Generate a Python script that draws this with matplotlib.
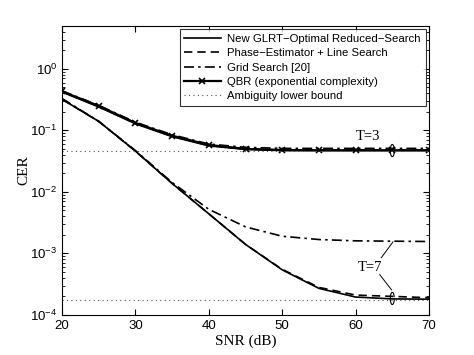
import numpy as np
import matplotlib
matplotlib.use("Agg")
import matplotlib.pyplot as plt
from matplotlib.patches import Arc

snr = [20, 25, 30, 35, 40, 45, 50, 55, 60, 65, 70]

# T = 3
glrt_t3 = [0.42, 0.24, 0.128, 0.079, 0.056, 0.049, 0.047, 0.047, 0.047, 0.047, 0.047]
phase_t3 = [0.43, 0.245, 0.130, 0.081, 0.057, 0.050, 0.048, 0.048, 0.048, 0.048, 0.048]
grid_t3 = [0.44, 0.255, 0.136, 0.085, 0.060, 0.053, 0.051, 0.051, 0.051, 0.051, 0.051]
qbr_t3 = [0.43, 0.25, 0.132, 0.082, 0.058, 0.050, 0.048, 0.0475, 0.0475, 0.0475, 0.0475]
bound_t3 = 0.0455

# T = 7
glrt_t7 = [0.32, 0.14, 0.046, 0.0137, 0.0044, 0.0014, 0.00054, 0.00027, 0.000195, 0.000182, 0.00018]
phase_t7 = [0.32, 0.14, 0.046, 0.0137, 0.0044, 0.0014, 0.00055, 0.00028, 0.00021, 0.0002, 0.00019]
grid_t7 = [0.33, 0.14, 0.047, 0.0142, 0.0052, 0.0027, 0.0019, 0.00168, 0.0016, 0.00158, 0.00156]
bound_t7 = 0.000175

legend_labels = ["New GLRT\u2212Optimal Reduced\u2212Search",
                 "Phase\u2212Estimator + Line Search",
                 "Grid Search [20]",
                 "QBR (exponential complexity)",
                 "Ambiguity lower bound"]

fig = plt.figure(figsize=(4.74, 3.55), dpi=100)
ax = fig.add_axes([0.131, 0.113, 0.774, 0.814])

lw = 1.2
l1, = ax.semilogy(snr, glrt_t3, color='black', lw=lw, ls='-')
ax.semilogy(snr, glrt_t7, color='black', lw=lw, ls='-')
l2, = ax.semilogy(snr, phase_t3, color='black', lw=lw, ls=(0, (5, 3)))
ax.semilogy(snr, phase_t7, color='black', lw=lw, ls=(0, (5, 3)))
l3, = ax.semilogy(snr, grid_t3, color='black', lw=lw, ls=(0, (6, 2.5, 1.5, 2.5)))
ax.semilogy(snr, grid_t7, color='black', lw=lw, ls=(0, (6, 2.5, 1.5, 2.5)))
l4, = ax.semilogy(snr, qbr_t3, color='black', lw=1.6, ls='-', marker='x', ms=4, mew=1.2)
l5, = ax.semilogy([snr[0], snr[-1]], [bound_t3, bound_t3], color='#555555', lw=0.8, ls=(0, (1, 3)))
ax.semilogy([snr[0], snr[-1]], [bound_t7, bound_t7], color='#555555', lw=0.8, ls=(0, (1, 3)))

ax.set_xlim(20, 70)
ax.set_ylim(1e-4, 5)
ax.set_xticks([20, 30, 40, 50, 60, 70])
ax.tick_params(which='both', direction='in', top=True, right=True, labelsize=9.5)
ax.tick_params(which='major', length=4)
ax.tick_params(which='minor', length=2)
for lab in ax.get_xticklabels() + ax.get_yticklabels():
    lab.set_family('Liberation Sans')

ax.set_xlabel("SNR (dB)", family='Liberation Serif', fontsize=11, labelpad=2)
ax.set_ylabel("CER", family='Liberation Serif', fontsize=11, labelpad=0)

leg = ax.legend([l1, l2, l3, l4, l5], legend_labels, loc='upper right',
                prop={'family': 'Liberation Sans', 'size': 8.2},
                frameon=True, fancybox=False, edgecolor='black',
                borderaxespad=0.3, handlelength=3.2, labelspacing=0.38,
                borderpad=0.4, handletextpad=0.6)
leg.get_frame().set_linewidth(0.8)

# annotations
ax.text(61.7, 0.079, "T=3", family='Liberation Serif', fontsize=10.5, ha='center', va='center')
ax.text(61.9, 5.8e-4, "T=7", family='Liberation Serif', fontsize=10.5, ha='center', va='center')
ax.plot([63.5, 65.1], [8.5e-4, 1.54e-3], color='black', lw=0.7)
ax.plot([63.3, 64.9], [4.5e-4, 2.55e-4], color='black', lw=0.7)

ymin_l, ymax_l = np.log10(1e-4), np.log10(5)
def frac(y):
    return (np.log10(y) - ymin_l) / (ymax_l - ymin_l)
for yc in [0.047, 0.000185]:
    ax.add_patch(Arc((0.9, frac(yc)), 0.011, 0.042, theta1=40, theta2=330,
                     transform=ax.transAxes, color='black', lw=0.8))

fig.savefig("out.png", dpi=100)
